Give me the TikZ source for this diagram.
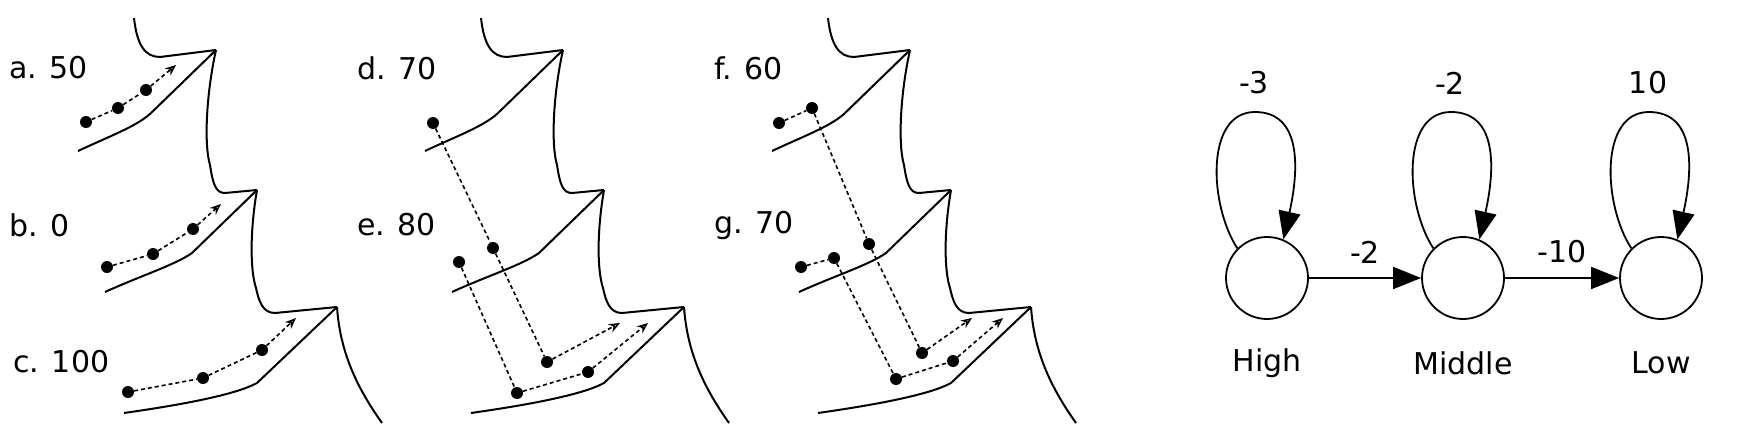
\documentclass[tikz,border=0pt]{standalone}
\usepackage{fontspec}
\setmainfont{DejaVu Sans}
\usetikzlibrary{arrows.meta}
\begin{document}
\begin{tikzpicture}[x=1pt,y=-1pt,
  wall/.style={line width=2pt,line join=miter},
  trail/.style={line width=1.6pt,dash pattern=on 4pt off 3pt},
  trailarr/.style={trail,-{Stealth[length=11pt,width=9pt,open,line width=1.5pt]}},
  dot/.style={circle,fill=black,inner sep=0pt,minimum size=12pt},
  lbl/.style={font=\fontsize{30}{34}\selectfont,anchor=west,inner sep=0pt},
  state/.style={circle,draw,line width=1.8pt,minimum size=82pt,inner sep=0pt},
  edge/.style={line width=1.8pt,-{Triangle[length=28pt,width=22pt]}},
  glbl/.style={font=\fontsize{30}{34}\selectfont,inner sep=0pt}]
\useasboundingbox (0,0) rectangle (1755,436);
\newcommand{\wallshape}{%
  \draw[wall] (134,18) .. controls (137,45) and (145,57) .. (160,57) -- (216,50);
  \draw[wall] (78,151) .. controls (110,136) and (135,127) .. (150,114) -- (216,50);
  \draw[wall] (216,50) .. controls (206,95) and (204,145) .. (210,165) .. controls (213,185) and (216,193) .. (225,193) -- (257,190);
  \draw[wall] (105,292) .. controls (140,276) and (175,265) .. (192,253) -- (257,190);
  \draw[wall] (257,190) .. controls (250,230) and (250,270) .. (256,288) .. controls (259,302) and (263,313) .. (275,313) -- (337,307);
  \draw[wall] (124,413) .. controls (180,405) and (235,395) .. (257,383) -- (337,307);
  \draw[wall] (337,307) .. controls (340,350) and (355,385) .. (382,423);
}
% panel 1
\begin{scope}
\wallshape
\node[lbl] (la) at (9,68) {a. 50};
\node[lbl] (lb) at (9,225) {b. 0};
\node[lbl] (lc) at (13,362) {c. 100};
\node[dot] (a1) at (86,122) {}; \node[dot] (a2) at (118,108) {}; \node[dot] (a3) at (146,90) {};
\coordinate (a4) at (176,65);
\draw[trail] (a1) -- (a2) -- (a3); \draw[trailarr] (a3) -- (a4);
\node[dot] (b1) at (107,267) {}; \node[dot] (b2) at (153,254) {}; \node[dot] (b3) at (193,229) {};
\coordinate (b4) at (221,204);
\draw[trail] (b1) -- (b2) -- (b3); \draw[trailarr] (b3) -- (b4);
\node[dot] (c1) at (128,392) {}; \node[dot] (c2) at (203,378) {}; \node[dot] (c3) at (262,350) {};
\coordinate (c4) at (296,318);
\draw[trail] (c1) -- (c2) -- (c3); \draw[trailarr] (c3) -- (c4);
\end{scope}
% panel 2
\begin{scope}[xshift=347pt]
\wallshape
\node[lbl] (ld) at (10,68) {d. 70};
\node[lbl] (le) at (10,225) {e. 80};
\node[dot] (d1) at (86,123) {}; \node[dot] (d2) at (146,248) {}; \node[dot] (d3) at (200,362) {};
\coordinate (d4) at (273,323);
\draw[trail] (d1) -- (d2) -- (d3); \draw[trailarr] (d3) -- (d4);
\node[dot] (e1) at (112,262) {}; \node[dot] (e2) at (170,393) {}; \node[dot] (e3) at (241,372) {};
\coordinate (e4) at (301,323);
\draw[trail] (e1) -- (e2) -- (e3); \draw[trailarr] (e3) -- (e4);
\end{scope}
% panel 3
\begin{scope}[xshift=694pt]
\wallshape
\node[lbl] (lf) at (20,68) {f. 60};
\node[lbl] (lg) at (20,225) {g. 70};
\node[dot] (f1) at (85,123) {}; \node[dot] (f2) at (118,108) {}; \node[dot] (f3) at (175,244) {}; \node[dot] (f4) at (228,353) {};
\coordinate (f5) at (278,318);
\draw[trail] (f1) -- (f2) -- (f3) -- (f4); \draw[trailarr] (f4) -- (f5);
\node[dot] (g1) at (107,267) {}; \node[dot] (g2) at (140,258) {}; \node[dot] (g3) at (202,379) {}; \node[dot] (g4) at (259,361) {};
\coordinate (g5) at (309,318);
\draw[trail] (g1) -- (g2) -- (g3) -- (g4); \draw[trailarr] (g4) -- (g5);
\end{scope}
% graph
\node[state] (H) at (1267,278) {};
\node[state] (M) at (1463,278) {};
\node[state] (L) at (1661,278) {};
\node[glbl] (tH) at (1267,363) {High};
\node[glbl] (tM) at (1463,363) {Middle};
\node[glbl] (tL) at (1661,363) {Low};
\draw[edge] (H) -- node[glbl,above=14pt] {-2} (M);
\draw[edge] (M) -- node[glbl,above=14pt] {-10} (L);
\foreach \n/\x/\t in {H/1267/-3,M/1463/-2,L/1661/10}{
  \draw[edge] (\n.135) .. controls ({\x-58},205) and ({\x-62},112) .. ({\x-12},112) .. controls ({\x+35},112) and ({\x+32},170) .. (\n.67);
  \node[glbl] at ({\x-13},83) {\t};
}
\end{tikzpicture}
\end{document}
